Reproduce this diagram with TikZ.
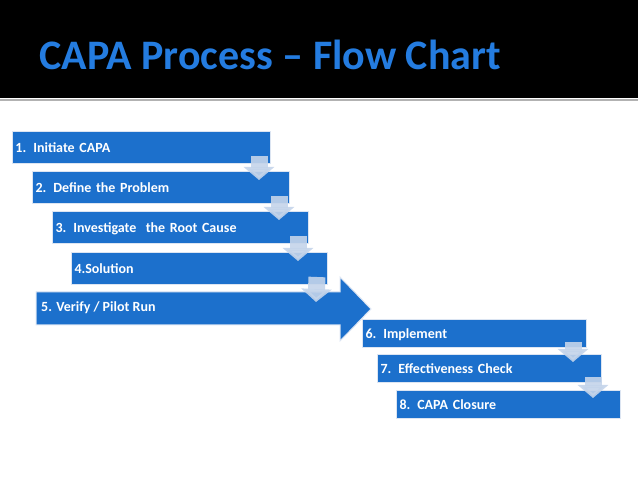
\documentclass[tikz,border=0pt]{standalone}
\usepackage{fontspec}
\setmainfont{Carlito}
\usetikzlibrary{arrows.meta,calc}
\definecolor{capablue}{RGB}{28,112,204}
\definecolor{titleblue}{RGB}{36,124,224}
\definecolor{stepdown}{RGB}{196,212,234}
\tikzset{
  capastep/.style={draw=stepdown!60!white,line width=1pt,fill=capablue,text=white,
    font=\bfseries\fontsize{14}{16}\selectfont,anchor=north west,inner ysep=0pt,inner xsep=3pt,
    minimum height=32pt,text depth=0pt,align=left,text width=#1},
  down/.style={-{Triangle[width=30pt,length=13pt]},line width=17pt,draw=stepdown,opacity=.9}
}
\begin{document}
\begin{tikzpicture}[x=1pt,y=-1pt]
		\useasboundingbox (0,0) rectangle (638,478);
		\fill[black] (0,0) rectangle (638,98);
		\draw[gray!60,line width=1.5pt] (0,100) -- (638,100);
		\node[anchor=west,text=titleblue,font=\bfseries\fontsize{42}{46}\selectfont] (title) at (36,55) {CAPA Process -- Flow Chart};
		% steps
		\node[capastep=252pt] (box1) at (12,131) {1. Initiate CAPA};
		\node[capastep=251pt] (box2) at (32,171) {2. Define the Problem};
		\node[capastep=250pt] (box3) at (52,211) {3. Investigate\ \ the Root Cause};
		\node[capastep=250pt] (box4) at (71,252) {4.Solution};
		\draw[stepdown!60!white,line width=1pt,fill=capablue] (36,292) -- (340,292) -- (340,277) -- (371,309) -- (340,341) -- (340,325) -- (36,325) -- cycle;
		\node[anchor=west,text=white,font=\bfseries\fontsize{14}{16}\selectfont,inner sep=0pt] (box5) at (41,308) {5. Verify / Pilot Run};
		\node[capastep=218pt,minimum height=28pt] (box6) at (362,319) {6. Implement};
		\node[capastep=218pt,minimum height=28pt] (box7) at (377,354) {7. Effectiveness Check};
		\node[capastep=218pt,minimum height=28pt] (box8) at (396,390) {8. CAPA Closure};
		% down arrows
		\coordinate (tip5) at (316,302);
		\draw[down] ($(box1.south east)+(-12,-8)$) -- ($(box2.north east -| box1.south east)+(-12,9)$);
		\draw[down] ($(box2.south east)+(-11,-8)$) -- ($(box3.north east -| box2.south east)+(-11,9)$);
		\draw[down] ($(box3.south east)+(-11,-8)$) -- ($(box4.north east -| box3.south east)+(-11,9)$);
		\draw[down] ($(box4.south east)+(-11,-8)$) -- (tip5);
		\draw[down] ($(box6.south east)+(-14,-6)$) -- ($(box7.north east -| box6.south east)+(-14,8)$);
		\draw[down] ($(box7.south east)+(-9,-6)$) -- ($(box8.north east -| box7.south east)+(-9,8)$);
\end{tikzpicture}
\end{document}
